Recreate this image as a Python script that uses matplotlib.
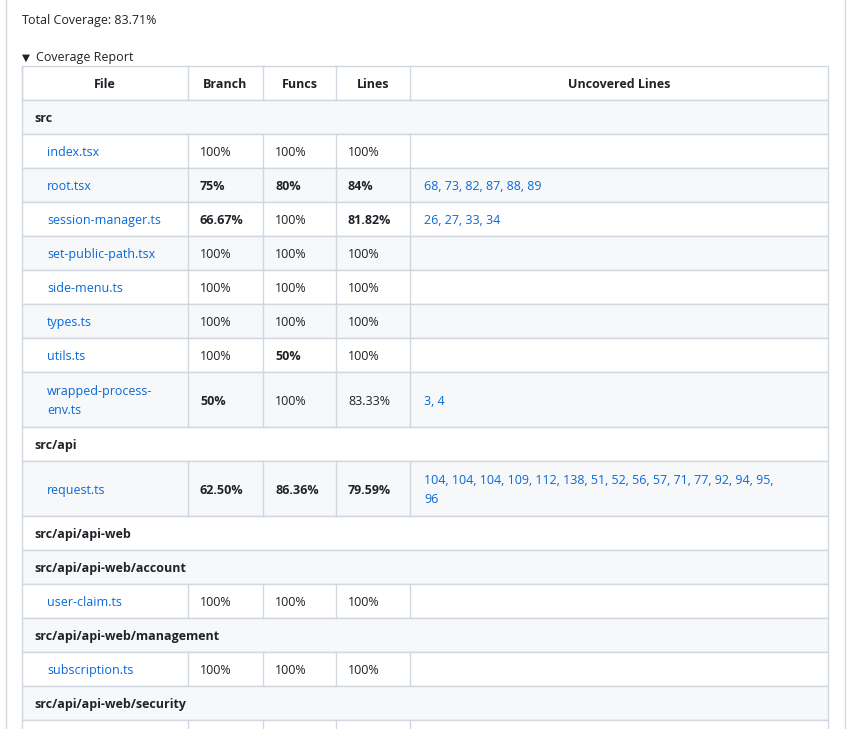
import matplotlib
matplotlib.use("Agg")
import matplotlib.pyplot as plt
from matplotlib.patches import Rectangle

total_coverage = "83.71%"
headers = ["File", "Branch", "Funcs", "Lines", "Uncovered Lines"]
# row kinds: "dir" rows span the table; "file" rows have values
row_kind = ["dir", "file", "file", "file", "file", "file", "file", "file", "file",
            "dir", "file", "dir", "dir", "file", "dir", "file", "dir", "file"]
row_name = ["src", "index.tsx", "root.tsx", "session-manager.ts", "set-public-path.tsx",
            "side-menu.ts", "types.ts", "utils.ts", "wrapped-process-\nenv.ts",
            "src/api", "request.ts", "src/api/api-web", "src/api/api-web/account",
            "user-claim.ts", "src/api/api-web/management", "subscription.ts",
            "src/api/api-web/security", ""]
branch = ["", "100%", "75%", "66.67%", "100%", "100%", "100%", "100%", "50%",
          "", "62.50%", "", "", "100%", "", "100%", "", ""]
funcs = ["", "100%", "80%", "100%", "100%", "100%", "100%", "50%", "100%",
         "", "86.36%", "", "", "100%", "", "100%", "", ""]
lines = ["", "100%", "84%", "81.82%", "100%", "100%", "100%", "100%", "83.33%",
         "", "79.59%", "", "", "100%", "", "100%", "", ""]
bold_flags = [None, (0, 0, 0), (1, 1, 1), (1, 0, 1), (0, 0, 0), (0, 0, 0), (0, 0, 0),
              (0, 1, 0), (1, 0, 0), None, (1, 1, 1), None, None, (0, 0, 0), None,
              (0, 0, 0), None, (0, 0, 0)]
uncovered = ["", "", "68, 73, 82, 87, 88, 89", "26, 27, 33, 34", "", "", "", "",
             "3, 4", "", "104, 104, 104, 109, 112, 138, 51, 52, 56, 57, 71, 77, 92, 94, 95,\n96",
             "", "", "", "", "", "", ""]
row_height = [34, 34, 34, 34, 34, 34, 34, 34, 55, 34, 55, 34, 34, 34, 34, 34, 34, 34]

W, H = 852, 729
fig = plt.figure(figsize=(W / 100, H / 100), dpi=100)
ax = fig.add_axes([0, 0, 1, 1])
ax.set_xlim(0, W)
ax.set_ylim(H, 0)
ax.axis("off")

FONT = "Open Sans"
FS = 9.0
TXT = "#1f2328"
LINK = "#0969da"
BORDER = "#d0d7de"
STRIPE = "#f6f8fa"
DY = 1.5

ax.plot([6, 6], [0, H], color=BORDER, lw=1)
ax.plot([845, 845], [0, H], color=BORDER, lw=1)

ax.text(22, 19 + DY, "Total Coverage: " + total_coverage, fontsize=FS, family=FONT,
        color=TXT, va="center")
ax.text(22, 56 + DY, "\u25BC", fontsize=7.5, family="DejaVu Sans", color=TXT, va="center")
ax.text(36, 56 + DY, "Coverage Report", fontsize=FS, family=FONT, color=TXT, va="center")

cols = [22, 188, 263, 336, 410, 828]
y = 66
hh = 34
ax.add_patch(Rectangle((cols[0], y), cols[-1] - cols[0], hh, fc="white", ec=BORDER, lw=1))
for i, h in enumerate(headers):
    cx = (cols[i] + cols[i + 1]) / 2
    ax.text(cx, y + hh / 2 + DY, h, ha="center", va="center", fontsize=FS, family=FONT,
            weight="bold", color=TXT)
    ax.plot([cols[i], cols[i]], [y, y + hh], color=BORDER, lw=1)
y += hh

for r, kind in enumerate(row_kind):
    h = row_height[r]
    fc = STRIPE if r % 2 == 0 else "white"
    ax.add_patch(Rectangle((cols[0], y), cols[-1] - cols[0], h, fc=fc, ec=BORDER, lw=1))
    cy = y + h / 2 + DY
    if kind == "dir":
        ax.text(cols[0] + 12, cy, row_name[r], va="center", fontsize=FS, family=FONT,
                weight="bold", color=TXT)
    else:
        for c in cols[1:-1]:
            ax.plot([c, c], [y, y + h], color=BORDER, lw=1)
        ax.text(cols[0] + 25, cy, row_name[r], va="center", fontsize=FS, family=FONT,
                color=LINK, linespacing=1.6)
        vals = [branch[r], funcs[r], lines[r]]
        for k, v in enumerate(vals):
            ax.text(cols[k + 1] + 12, cy, v, va="center", fontsize=FS, family=FONT,
                    color=TXT, weight="bold" if bold_flags[r][k] else "normal")
        ax.text(cols[4] + 14, cy, uncovered[r], va="center", fontsize=FS, family=FONT,
                color=LINK, linespacing=1.6)
    y += h

fig.savefig("out.png", dpi=100)
